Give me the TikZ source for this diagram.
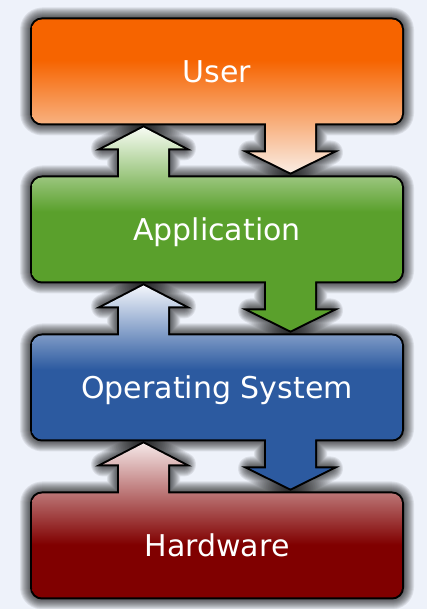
\documentclass[tikz,border=0pt]{standalone}
\usepackage{fontspec}
\setmainfont{DejaVu Sans}
\usetikzlibrary{positioning}

\definecolor{pagebg}{HTML}{EEF2FA}
\definecolor{userorange}{HTML}{F66400}
\definecolor{userpale}{HTML}{FAECE2}
\definecolor{appgreen}{HTML}{5AA02C}
\definecolor{apppale}{HTML}{F6FBF2}
\definecolor{osblue}{HTML}{2C5AA0}
\definecolor{ospale}{HTML}{F2F5FB}
\definecolor{hwred}{HTML}{800000}
\definecolor{hwpale}{HTML}{F4E6E6}

\pgfdeclareverticalshading{usershade}{100bp}{color(0bp)=(userpale); color(25bp)=(userpale); color(61.7bp)=(userorange); color(100bp)=(userorange)}
\pgfdeclareverticalshading{appshade}{100bp}{color(0bp)=(appgreen); color(54.3bp)=(appgreen); color(75bp)=(apppale); color(100bp)=(apppale)}
\pgfdeclareverticalshading{osshade}{100bp}{color(0bp)=(osblue); color(54.3bp)=(osblue); color(75bp)=(ospale); color(100bp)=(ospale)}
\pgfdeclareverticalshading{hwshade}{100bp}{color(0bp)=(hwred); color(42.2bp)=(hwred); color(75bp)=(hwpale); color(100bp)=(hwpale)}

\pgfdeclarelayer{shadow}
\pgfdeclarelayer{background}
\pgfsetlayers{shadow,background,main}

% box of a layer, and the block arrows leaving it
\newcommand\boxpath[1]{[rounded corners=10pt] (#1.south west) -- (#1.north west) -- (#1.north east) -- (#1.south east) -- cycle [sharp corners]}
\newcommand\uppath[1]{([shift={(-98,-10)}]#1.north) -- ++(0,39) -- ++(-16,0) -- ++(40.5,21) -- ++(40.5,-21) -- ++(-16,0) -- ++(0,-39) -- cycle}
\newcommand\downpath[1]{([shift={(98,10)}]#1.south) -- ++(0,-39) -- ++(16,0) -- ++(-40.5,-20) -- ++(-40.5,20) -- ++(16,0) -- ++(0,39) -- cycle}

\begin{document}
\begin{tikzpicture}[x=1pt,y=1pt,
    layer/.style={minimum width=370pt, minimum height=104pt, inner sep=0pt, outer sep=0pt,
      text=white, font=\fontsize{30}{36}\selectfont, text height=21.9pt, text depth=0pt},
    rim/.style={preaction={draw, line width=4pt}},
    halo/.style={draw=black, opacity=0.08, line join=round}]
   \useasboundingbox (0,0) rectangle (427,609);
   \node[layer] (user) at (217,537.5) {User};
   \node[layer] (app) [below=54pt of user] {Application};
   \node[layer] (os) [below=54pt of app] {Operating System};
   \node[layer] (hw) [below=54pt of os] {Hardware};

   \begin{pgfonlayer}{shadow}
     \fill[pagebg] (0,0) rectangle (427,609);
     % soft shadow: stacked see-through strokes
     \foreach \w in {2,4,...,24} {
       \draw[halo, line width=\w pt] \boxpath{user} \downpath{user};
       \draw[halo, line width=\w pt] \boxpath{app} \uppath{app} \downpath{app};
       \draw[halo, line width=\w pt] \boxpath{os} \uppath{os} \downpath{os};
       \draw[halo, line width=\w pt] \boxpath{hw} \uppath{hw};
     }
   \end{pgfonlayer}

   \begin{pgfonlayer}{background}
     \shade[rim, shading=usershade] \boxpath{user} \downpath{user};
     \shade[rim, shading=appshade] \boxpath{app} \uppath{app} \downpath{app};
     \shade[rim, shading=osshade] \boxpath{os} \uppath{os} \downpath{os};
     \shade[rim, shading=hwshade] \boxpath{hw} \uppath{hw};
   \end{pgfonlayer}
\end{tikzpicture}
\end{document}
